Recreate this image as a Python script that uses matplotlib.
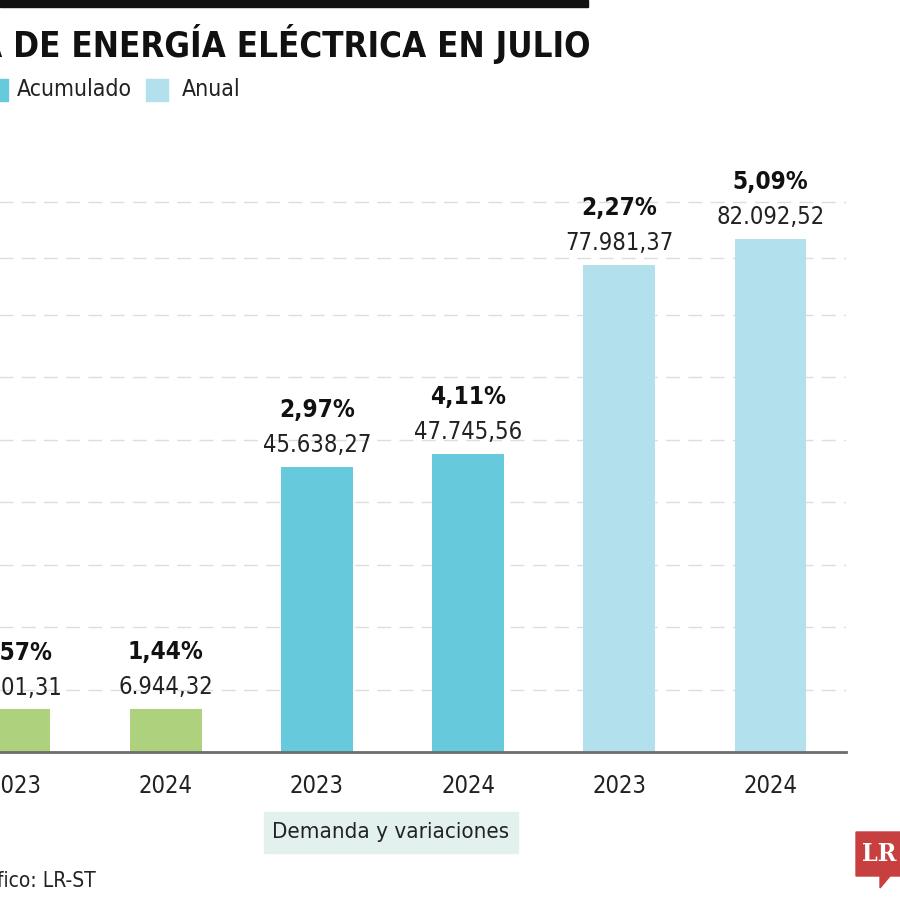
import matplotlib
matplotlib.use('Agg')
import matplotlib.pyplot as plt
from matplotlib.patches import Rectangle, Polygon

# datos
years = ['2023', '2024', '2023', '2024', '2023', '2024']
series = ['Mensual', 'Mensual', 'Acumulado', 'Acumulado', 'Anual', 'Anual']
values = [6801.31, 6944.32, 45638.27, 47745.56, 77981.37, 82092.52]
pcts = ['1,57%', '1,44%', '2,97%', '4,11%', '2,27%', '5,09%']
grid_vals = [10000, 20000, 30000, 40000, 50000, 60000, 70000, 79000, 88000]
colors = {'Mensual': '#add17d', 'Acumulado': '#67cadc', 'Anual': '#b2e0ec'}

plt.rcParams['font.family'] = ['DejaVu Sans']
plt.rcParams['font.stretch'] = 'condensed'

W = H = 900.0
fig = plt.figure(figsize=(9, 9), dpi=100)

def fx(x):
    return x / W

def fy(y):
    return 1 - y / H

def es_num(v):
    s = f"{v:,.2f}"
    return s.replace(',', '#').replace('.', ',').replace('#', '.')

# ejes: el grafico original esta recortado por la izquierda
x0_px, step_px = 14.5, 151.2
xlim = (-0.6, 5.5)
left_px = x0_px + xlim[0] * step_px
right_px = x0_px + xlim[1] * step_px
base_px = 752
px_per = (752 - 239) / 82092.52
ytop = 96000
ax = fig.add_axes([fx(left_px), fy(base_px), (right_px - left_px) / W, ytop * px_per / H])
ax.set_xlim(*xlim)
ax.set_ylim(0, ytop)

xs = list(range(len(values)))
ax.bar(xs, values, width=0.476, color=[colors[s] for s in series], zorder=2)

for g in grid_vals:
    ax.axhline(g, color='#dddddd', lw=1, ls=(0, (10, 6)), zorder=1)

for x, v, p in zip(xs, values, pcts):
    ax.annotate(es_num(v), (x, v), xytext=(0, 15.5), textcoords='offset points',
                ha='center', va='center', fontsize=17, color='#222222', zorder=3)
    ax.annotate(p, (x, v), xytext=(0, 41), textcoords='offset points',
                ha='center', va='center', fontsize=17.5, fontweight='bold', color='#111111', zorder=3)

for s in ['top', 'left', 'right']:
    ax.spines[s].set_visible(False)
ax.spines['bottom'].set_color('#6d6d6d')
ax.spines['bottom'].set_linewidth(2)
ax.set_yticks([])
ax.set_xticks(xs)
ax.set_xticklabels(years, fontsize=17, color='#222222')
ax.tick_params(axis='x', length=0, pad=16)

# barra superior y titulo
fig.patches.append(Rectangle((fx(0), fy(7)), fx(588), 7 / H, transform=fig.transFigure,
                             color='#111111'))
fig.text(fx(591), fy(44), 'DEMANDA DE ENERGÍA ELÉCTRICA EN JULIO', ha='right', va='center',
         fontsize=25, fontweight='bold', color='#111111')

# leyenda
leg = [('Acumulado', -14, 17), ('Anual', 146, 182)]
for name, sq_x, tx in leg:
    fig.patches.append(Rectangle((fx(sq_x), fy(101)), 22 / W, 22 / H, transform=fig.transFigure,
                                 color=colors[name]))
    fig.text(fx(tx), fy(89), name, ha='left', va='center', fontsize=16.5, color='#222222')

# caja del eje
fig.patches.append(Rectangle((fx(264), fy(853)), 254 / W, 41 / H, transform=fig.transFigure,
                             color='#e2f1ee'))
fig.text(fx(391), fy(832), 'Demanda y variaciones', ha='center', va='center',
         fontsize=16, color='#222222')

fig.text(fx(96), fy(881), 'Gráfico: LR-ST', ha='right', va='center', fontsize=15, color='#222222')

# logo LR
logo = [(856, 832), (900, 832), (900, 876), (890, 876), (880, 888), (880, 876), (856, 876)]
fig.patches.append(Polygon([(fx(a), fy(b)) for a, b in logo], closed=True,
                           transform=fig.transFigure, color='#c7403f'))
fig.text(fx(879), fy(854), 'LR', ha='center', va='center', fontsize=18, fontweight='bold',
         family='DejaVu Serif', color='white')

fig.savefig('out.png', dpi=100)
